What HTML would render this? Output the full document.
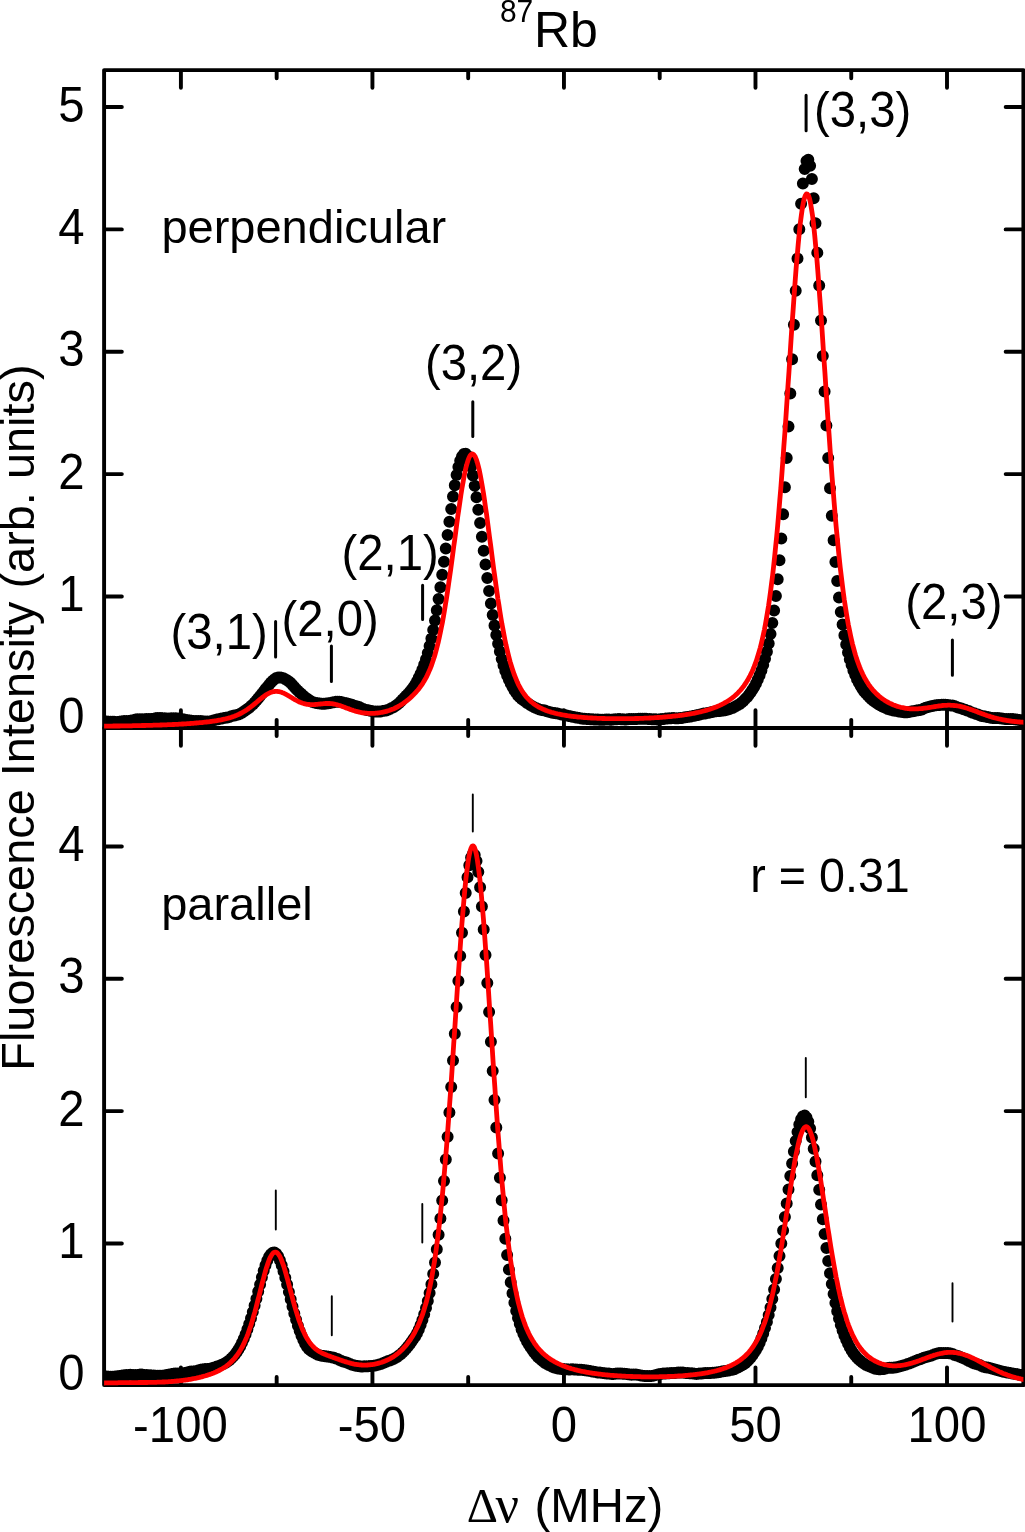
<!DOCTYPE html>
<html lang="en"><head><meta charset="utf-8"><title>87Rb fluorescence</title>
<style>html,body{margin:0;padding:0;background:#fff}svg{display:block}</style>
</head><body>
<svg width="1025" height="1532" viewBox="0 0 1025 1532">
<defs><clipPath id="cp"><rect x="104.10" y="0" width="919.30" height="1532"/></clipPath></defs>
<rect width="1025" height="1532" fill="#fff"/>
<g stroke="#000" stroke-width="3.9" stroke-linecap="round" fill="none">
<rect x="104.1" y="70.1" width="919.30" height="1315.00" stroke-linejoin="round"/>
<path d="M104.1 727.95H1023.4"/>
<path d="M180.90 71.1V87.85M180.90 710.20V745.70M180.90 1384.1V1367.35M276.66 71.1V78.20M276.66 719.85V736.05M276.66 1384.1V1377.00M372.43 71.1V87.85M372.43 710.20V745.70M372.43 1384.1V1367.35M468.19 71.1V78.20M468.19 719.85V736.05M468.19 1384.1V1377.00M563.95 71.1V87.85M563.95 710.20V745.70M563.95 1384.1V1367.35M659.71 71.1V78.20M659.71 719.85V736.05M659.71 1384.1V1377.00M755.48 71.1V87.85M755.48 710.20V745.70M755.48 1384.1V1367.35M851.24 71.1V78.20M851.24 719.85V736.05M851.24 1384.1V1377.00M947.00 71.1V87.85M947.00 710.20V745.70M947.00 1384.1V1367.35M105.1 718.80H121.85M1022.4 718.80H1005.65M105.1 596.45H121.85M1022.4 596.45H1005.65M105.1 474.10H121.85M1022.4 474.10H1005.65M105.1 351.75H121.85M1022.4 351.75H1005.65M105.1 229.40H121.85M1022.4 229.40H1005.65M105.1 107.05H121.85M1022.4 107.05H1005.65M105.1 1375.76H121.85M1022.4 1375.76H1005.65M105.1 1243.43H121.85M1022.4 1243.43H1005.65M105.1 1111.10H121.85M1022.4 1111.10H1005.65M105.1 978.77H121.85M1022.4 978.77H1005.65M105.1 846.44H121.85M1022.4 846.44H1005.65"/>
</g>
<path d="M275.6 621.5V657.0M331.4 646.0V681.5M422.6 585.3V619.5M472.8 401.7V436.6M806.1 95.2V130.7M952.4 640.1V675.3" stroke="#000" stroke-width="3.0" stroke-linecap="round" fill="none"/>
<path d="M275.8 1190.4V1229.5M331.8 1296.2V1335.3M422.3 1204.0V1242.6M472.8 794.4V831.6M805.8 1057.9V1097.2M952.5 1283.2V1321.5" stroke="#000" stroke-width="1.9" stroke-linecap="round" fill="none"/>
<g clip-path="url(#cp)">
<path d="M103.1 721.5h.01M104.9 721.5h.01M106.7 721.6h.01M108.6 721.7h.01M110.4 721.7h.01M112.2 721.7h.01M114.0 721.8h.01M115.8 721.9h.01M117.6 721.9h.01M119.4 721.8h.01M121.2 721.5h.01M123.0 721.2h.01M124.8 721.1h.01M126.6 721.1h.01M128.4 721.0h.01M130.2 720.8h.01M132.0 720.5h.01M133.8 720.1h.01M135.6 719.6h.01M137.4 719.3h.01M139.2 719.2h.01M141.0 719.2h.01M142.8 719.2h.01M144.6 719.2h.01M146.4 719.1h.01M148.2 719.1h.01M150.0 719.1h.01M151.8 719.0h.01M153.6 718.8h.01M155.4 718.3h.01M157.2 718.0h.01M159.1 717.9h.01M160.9 718.1h.01M162.7 718.2h.01M164.5 718.3h.01M166.3 718.4h.01M168.1 718.4h.01M169.9 718.4h.01M171.7 718.3h.01M173.5 718.3h.01M175.3 718.3h.01M177.1 718.4h.01M178.9 718.6h.01M180.7 718.9h.01M182.5 719.2h.01M184.3 719.6h.01M186.1 720.0h.01M187.9 720.2h.01M189.7 720.5h.01M191.5 720.8h.01M193.3 721.0h.01M195.1 721.1h.01M196.9 721.0h.01M198.7 721.0h.01M200.5 721.1h.01M202.3 721.3h.01M204.1 721.5h.01M205.9 721.6h.01M207.7 721.6h.01M209.6 721.4h.01M211.4 721.0h.01M213.2 720.6h.01M215.0 720.1h.01M216.8 719.6h.01M218.6 719.2h.01M220.4 718.8h.01M222.2 718.5h.01M224.0 718.1h.01M225.8 717.7h.01M227.6 717.4h.01M229.4 716.9h.01M231.2 716.3h.01M233.0 715.8h.01M234.8 715.4h.01M236.6 715.0h.01M238.4 714.5h.01M240.2 713.7h.01M242.0 712.7h.01M243.8 711.5h.01M245.6 710.2h.01M247.4 709.0h.01M249.2 707.7h.01M251.0 706.1h.01M252.8 704.4h.01M254.6 702.5h.01M256.4 700.5h.01M258.2 698.3h.01M260.1 696.0h.01M261.9 693.7h.01M263.7 691.4h.01M265.5 689.1h.01M267.3 686.9h.01M269.1 684.7h.01M270.9 682.5h.01M272.7 680.7h.01M274.5 679.2h.01M276.3 678.1h.01M278.1 677.5h.01M279.9 677.4h.01M281.7 677.7h.01M283.5 678.3h.01M285.3 679.2h.01M287.1 680.3h.01M288.9 681.5h.01M290.7 683.1h.01M292.5 685.0h.01M294.3 687.1h.01M296.1 689.1h.01M297.9 690.8h.01M299.7 692.4h.01M301.5 694.1h.01M303.3 695.7h.01M305.1 697.3h.01M306.9 698.6h.01M308.7 699.8h.01M310.6 700.9h.01M312.4 701.9h.01M314.2 702.6h.01M316.0 703.1h.01M317.8 703.3h.01M319.6 703.5h.01M321.4 703.7h.01M323.2 703.8h.01M325.0 703.8h.01M326.8 703.6h.01M328.6 703.3h.01M330.4 703.0h.01M332.2 702.6h.01M334.0 702.2h.01M335.8 701.8h.01M337.6 701.7h.01M339.4 701.8h.01M341.2 702.1h.01M343.0 702.5h.01M344.8 702.9h.01M346.6 703.3h.01M348.4 703.7h.01M350.2 704.2h.01M352.0 704.8h.01M353.8 705.4h.01M355.6 706.0h.01M357.4 706.5h.01M359.2 707.1h.01M361.0 707.9h.01M362.9 708.7h.01M364.7 709.4h.01M366.5 710.0h.01M368.3 710.3h.01M370.1 710.7h.01M371.9 711.1h.01M373.7 711.4h.01M375.5 711.6h.01M377.3 711.6h.01M379.1 711.5h.01M380.9 711.4h.01M382.7 711.1h.01M384.5 710.8h.01M386.3 710.4h.01M388.1 709.7h.01M389.9 709.0h.01M391.7 708.1h.01M393.5 707.2h.01M395.3 706.1h.01M397.1 704.8h.01M398.9 703.2h.01M400.7 701.4h.01M402.5 699.5h.01M404.3 697.7h.01M406.1 695.8h.01M407.9 693.9h.01M409.7 691.9h.01M411.5 689.7h.01M413.4 687.3h.01M415.2 684.4h.01M417.0 681.2h.01M418.8 677.6h.01M420.6 673.7h.01M422.4 669.4h.01M424.2 664.6h.01M426.0 659.2h.01M427.8 653.0h.01M429.6 646.1h.01M431.4 638.5h.01M433.2 630.0h.01M435.0 620.6h.01M436.8 610.2h.01M438.6 599.0h.01M440.4 587.2h.01M442.2 574.8h.01M444.0 561.8h.01M445.8 548.4h.01M447.6 535.0h.01M449.4 521.8h.01M451.2 508.9h.01M453.0 496.6h.01M454.8 485.2h.01M456.6 475.1h.01M458.4 466.9h.01M460.2 460.7h.01M462.0 456.4h.01M463.9 454.0h.01M465.7 453.8h.01M467.5 455.8h.01M469.3 460.2h.01M471.1 466.8h.01M472.9 475.4h.01M474.7 485.7h.01M476.5 497.3h.01M478.3 509.8h.01M480.1 523.0h.01M481.9 536.7h.01M483.7 550.7h.01M485.5 564.5h.01M487.3 578.0h.01M489.1 591.0h.01M490.9 603.4h.01M492.7 615.0h.01M494.5 625.6h.01M496.3 635.1h.01M498.1 643.7h.01M499.9 651.6h.01M501.7 658.9h.01M503.5 665.3h.01M505.3 670.9h.01M507.1 675.6h.01M508.9 679.7h.01M510.7 683.4h.01M512.5 686.9h.01M514.4 690.2h.01M516.2 693.0h.01M518.0 695.4h.01M519.8 697.3h.01M521.6 698.9h.01M523.4 700.3h.01M525.2 701.6h.01M527.0 702.9h.01M528.8 704.1h.01M530.6 705.2h.01M532.4 706.2h.01M534.2 707.2h.01M536.0 708.1h.01M537.8 708.8h.01M539.6 709.4h.01M541.4 709.9h.01M543.2 710.2h.01M545.0 710.6h.01M546.8 711.2h.01M548.6 711.8h.01M550.4 712.3h.01M552.2 712.7h.01M554.0 713.0h.01M555.8 713.3h.01M557.6 713.6h.01M559.4 714.0h.01M561.2 714.4h.01M563.0 714.7h.01M564.9 715.1h.01M566.7 715.4h.01M568.5 715.9h.01M570.3 716.3h.01M572.1 716.7h.01M573.9 717.1h.01M575.7 717.4h.01M577.5 717.7h.01M579.3 718.1h.01M581.1 718.5h.01M582.9 718.7h.01M584.7 718.8h.01M586.5 718.9h.01M588.3 719.1h.01M590.1 719.2h.01M591.9 719.3h.01M593.7 719.4h.01M595.5 719.4h.01M597.3 719.5h.01M599.1 719.7h.01M600.9 719.8h.01M602.7 719.8h.01M604.5 719.7h.01M606.3 719.6h.01M608.1 719.6h.01M609.9 719.7h.01M611.7 719.7h.01M613.5 719.5h.01M615.4 719.3h.01M617.2 719.2h.01M619.0 719.1h.01M620.8 719.2h.01M622.6 719.3h.01M624.4 719.4h.01M626.2 719.4h.01M628.0 719.2h.01M629.8 719.0h.01M631.6 718.9h.01M633.4 719.0h.01M635.2 719.0h.01M637.0 718.9h.01M638.8 718.8h.01M640.6 718.8h.01M642.4 718.7h.01M644.2 718.7h.01M646.0 718.7h.01M647.8 718.9h.01M649.6 719.1h.01M651.4 719.2h.01M653.2 719.2h.01M655.0 719.2h.01M656.8 719.4h.01M658.6 719.4h.01M660.4 719.3h.01M662.2 719.1h.01M664.0 718.9h.01M665.9 718.6h.01M667.7 718.4h.01M669.5 718.3h.01M671.3 718.2h.01M673.1 718.1h.01M674.9 718.2h.01M676.7 718.2h.01M678.5 718.2h.01M680.3 718.1h.01M682.1 717.9h.01M683.9 717.6h.01M685.7 717.2h.01M687.5 716.9h.01M689.3 716.7h.01M691.1 716.4h.01M692.9 716.1h.01M694.7 715.7h.01M696.5 715.3h.01M698.3 714.9h.01M700.1 714.4h.01M701.9 713.9h.01M703.7 713.6h.01M705.5 713.4h.01M707.3 713.1h.01M709.1 712.7h.01M710.9 712.3h.01M712.7 711.9h.01M714.5 711.5h.01M716.4 711.2h.01M718.2 711.0h.01M720.0 710.9h.01M721.8 710.8h.01M723.6 710.5h.01M725.4 710.2h.01M727.2 709.7h.01M729.0 709.2h.01M730.8 708.5h.01M732.6 707.9h.01M734.4 707.0h.01M736.2 706.1h.01M738.0 705.1h.01M739.8 703.9h.01M741.6 702.5h.01M743.4 700.9h.01M745.2 699.1h.01M747.0 697.2h.01M748.8 694.9h.01M750.6 692.5h.01M752.4 689.8h.01M754.2 686.9h.01M756.0 683.5h.01M757.8 679.6h.01M759.6 675.3h.01M761.4 670.4h.01M763.2 665.0h.01M765.0 658.8h.01M766.9 651.7h.01M768.7 643.5h.01M770.5 634.0h.01M772.3 623.1h.01M774.1 610.5h.01M775.9 596.0h.01M777.7 579.3h.01M779.5 560.2h.01M781.3 538.6h.01M783.1 514.3h.01M784.9 487.3h.01M786.7 457.9h.01M788.5 426.5h.01M790.3 393.4h.01M792.1 359.2h.01M793.9 324.7h.01M795.7 290.8h.01M797.5 258.6h.01M799.3 229.2h.01M801.1 203.8h.01M802.9 183.5h.01M804.7 169.0h.01M806.5 161.0h.01M808.3 159.8h.01M810.1 165.8h.01M811.9 178.9h.01M813.7 198.3h.01M815.5 223.2h.01M817.3 252.7h.01M819.2 285.6h.01M821.0 320.5h.01M822.8 356.1h.01M824.6 391.4h.01M826.4 425.6h.01M828.2 458.1h.01M830.0 488.3h.01M831.8 515.8h.01M833.6 540.3h.01M835.4 561.9h.01M837.2 580.9h.01M839.0 597.5h.01M840.8 612.0h.01M842.6 624.6h.01M844.4 635.3h.01M846.2 644.5h.01M848.0 652.4h.01M849.8 659.2h.01M851.6 665.1h.01M853.4 670.4h.01M855.2 675.1h.01M857.0 679.2h.01M858.8 682.7h.01M860.6 685.9h.01M862.4 688.9h.01M864.2 691.4h.01M866.0 693.5h.01M867.8 695.5h.01M869.7 697.4h.01M871.5 699.2h.01M873.3 700.7h.01M875.1 702.1h.01M876.9 703.3h.01M878.7 704.5h.01M880.5 705.5h.01M882.3 706.4h.01M884.1 707.3h.01M885.9 708.1h.01M887.7 708.9h.01M889.5 709.6h.01M891.3 710.1h.01M893.1 710.4h.01M894.9 710.7h.01M896.7 711.0h.01M898.5 711.4h.01M900.3 711.8h.01M902.1 712.1h.01M903.9 712.2h.01M905.7 712.3h.01M907.5 712.2h.01M909.3 712.0h.01M911.1 711.6h.01M912.9 711.2h.01M914.7 710.9h.01M916.5 710.6h.01M918.3 710.3h.01M920.2 710.0h.01M922.0 709.4h.01M923.8 708.6h.01M925.6 707.8h.01M927.4 707.2h.01M929.2 706.7h.01M931.0 706.3h.01M932.8 706.0h.01M934.6 705.6h.01M936.4 705.3h.01M938.2 705.1h.01M940.0 705.0h.01M941.8 704.8h.01M943.6 704.7h.01M945.4 704.7h.01M947.2 704.9h.01M949.0 705.2h.01M950.8 705.4h.01M952.6 705.6h.01M954.4 706.1h.01M956.2 706.8h.01M958.0 707.5h.01M959.8 708.1h.01M961.6 708.6h.01M963.4 709.2h.01M965.2 709.8h.01M967.0 710.4h.01M968.8 711.1h.01M970.7 711.9h.01M972.5 712.7h.01M974.3 713.3h.01M976.1 713.9h.01M977.9 714.6h.01M979.7 715.3h.01M981.5 715.9h.01M983.3 716.3h.01M985.1 716.6h.01M986.9 716.9h.01M988.7 717.3h.01M990.5 717.7h.01M992.3 718.0h.01M994.1 718.1h.01M995.9 718.0h.01M997.7 718.0h.01M999.5 718.2h.01M1001.3 718.5h.01M1003.1 718.8h.01M1004.9 719.0h.01M1006.7 719.1h.01M1008.5 719.1h.01M1010.3 719.1h.01M1012.1 719.1h.01M1013.9 719.2h.01M1015.7 719.4h.01M1017.5 719.7h.01M1019.3 720.0h.01M1021.2 720.3h.01M1023.0 720.7h.01M1024.8 721.2h.01" stroke="#000" stroke-width="12" stroke-linecap="round" fill="none"/>
<path d="M103.1 1376.8h.01M104.9 1376.6h.01M106.7 1376.6h.01M108.6 1376.7h.01M110.4 1376.8h.01M112.2 1376.7h.01M114.0 1376.7h.01M115.8 1376.6h.01M117.6 1376.3h.01M119.4 1376.0h.01M121.2 1375.7h.01M123.0 1375.4h.01M124.8 1375.2h.01M126.6 1375.0h.01M128.4 1374.9h.01M130.2 1374.8h.01M132.0 1374.9h.01M133.8 1374.9h.01M135.6 1375.0h.01M137.4 1374.9h.01M139.2 1374.7h.01M141.0 1374.6h.01M142.8 1374.7h.01M144.6 1374.9h.01M146.4 1375.0h.01M148.2 1375.2h.01M150.0 1375.3h.01M151.8 1375.5h.01M153.6 1375.6h.01M155.4 1375.7h.01M157.2 1375.8h.01M159.1 1375.8h.01M160.9 1375.8h.01M162.7 1375.7h.01M164.5 1375.5h.01M166.3 1375.1h.01M168.1 1374.8h.01M169.9 1374.5h.01M171.7 1374.1h.01M173.5 1373.7h.01M175.3 1373.5h.01M177.1 1373.5h.01M178.9 1373.5h.01M180.7 1373.5h.01M182.5 1373.4h.01M184.3 1373.1h.01M186.1 1372.7h.01M187.9 1372.2h.01M189.7 1371.8h.01M191.5 1371.6h.01M193.3 1371.5h.01M195.1 1371.3h.01M196.9 1370.9h.01M198.7 1370.3h.01M200.5 1369.8h.01M202.3 1369.5h.01M204.1 1369.2h.01M205.9 1369.1h.01M207.7 1368.9h.01M209.6 1368.7h.01M211.4 1368.4h.01M213.2 1367.8h.01M215.0 1367.2h.01M216.8 1366.6h.01M218.6 1366.0h.01M220.4 1365.3h.01M222.2 1364.6h.01M224.0 1363.8h.01M225.8 1362.8h.01M227.6 1361.6h.01M229.4 1360.2h.01M231.2 1358.6h.01M233.0 1356.8h.01M234.8 1354.7h.01M236.6 1352.3h.01M238.4 1349.6h.01M240.2 1346.4h.01M242.0 1342.8h.01M243.8 1338.7h.01M245.6 1334.2h.01M247.4 1329.3h.01M249.2 1324.0h.01M251.0 1318.2h.01M252.8 1311.9h.01M254.6 1305.4h.01M256.4 1298.7h.01M258.2 1291.6h.01M260.1 1284.4h.01M261.9 1277.3h.01M263.7 1270.8h.01M265.5 1265.2h.01M267.3 1260.5h.01M269.1 1256.8h.01M270.9 1254.2h.01M272.7 1252.7h.01M274.5 1252.5h.01M276.3 1253.7h.01M278.1 1256.3h.01M279.9 1260.2h.01M281.7 1265.2h.01M283.5 1271.2h.01M285.3 1277.7h.01M287.1 1284.6h.01M288.9 1291.9h.01M290.7 1299.3h.01M292.5 1306.5h.01M294.3 1313.4h.01M296.1 1319.8h.01M297.9 1325.7h.01M299.7 1331.0h.01M301.5 1335.8h.01M303.3 1340.1h.01M305.1 1343.7h.01M306.9 1346.7h.01M308.7 1348.9h.01M310.6 1350.4h.01M312.4 1351.7h.01M314.2 1352.8h.01M316.0 1353.8h.01M317.8 1354.7h.01M319.6 1355.3h.01M321.4 1355.8h.01M323.2 1356.1h.01M325.0 1356.2h.01M326.8 1356.5h.01M328.6 1356.8h.01M330.4 1357.1h.01M332.2 1357.4h.01M334.0 1357.8h.01M335.8 1358.4h.01M337.6 1359.1h.01M339.4 1359.9h.01M341.2 1360.7h.01M343.0 1361.4h.01M344.8 1362.0h.01M346.6 1362.6h.01M348.4 1363.2h.01M350.2 1363.9h.01M352.0 1364.7h.01M353.8 1365.3h.01M355.6 1365.8h.01M357.4 1366.1h.01M359.2 1366.3h.01M361.0 1366.4h.01M362.9 1366.4h.01M364.7 1366.3h.01M366.5 1366.3h.01M368.3 1366.2h.01M370.1 1366.1h.01M371.9 1365.9h.01M373.7 1365.8h.01M375.5 1365.5h.01M377.3 1365.0h.01M379.1 1364.6h.01M380.9 1364.0h.01M382.7 1363.3h.01M384.5 1362.5h.01M386.3 1361.7h.01M388.1 1361.0h.01M389.9 1360.4h.01M391.7 1359.7h.01M393.5 1358.9h.01M395.3 1358.0h.01M397.1 1356.9h.01M398.9 1355.6h.01M400.7 1354.2h.01M402.5 1352.6h.01M404.3 1350.8h.01M406.1 1348.7h.01M407.9 1346.5h.01M409.7 1344.2h.01M411.5 1341.7h.01M413.4 1339.1h.01M415.2 1336.4h.01M417.0 1333.2h.01M418.8 1329.4h.01M420.6 1325.0h.01M422.4 1320.0h.01M424.2 1314.3h.01M426.0 1308.0h.01M427.8 1300.9h.01M429.6 1293.1h.01M431.4 1284.3h.01M433.2 1274.0h.01M435.0 1262.4h.01M436.8 1249.3h.01M438.6 1234.7h.01M440.4 1218.5h.01M442.2 1200.6h.01M444.0 1180.9h.01M445.8 1159.6h.01M447.6 1136.8h.01M449.4 1112.5h.01M451.2 1087.0h.01M453.0 1060.6h.01M454.8 1033.7h.01M456.6 1007.0h.01M458.4 981.0h.01M460.2 956.0h.01M462.0 932.7h.01M463.9 911.5h.01M465.7 892.9h.01M467.5 877.3h.01M469.3 865.3h.01M471.1 857.4h.01M472.9 853.9h.01M474.7 855.0h.01M476.5 861.1h.01M478.3 872.0h.01M480.1 887.3h.01M481.9 906.6h.01M483.7 929.5h.01M485.5 955.1h.01M487.3 982.9h.01M489.1 1012.0h.01M490.9 1041.7h.01M492.7 1071.1h.01M494.5 1099.9h.01M496.3 1127.5h.01M498.1 1153.6h.01M499.9 1177.8h.01M501.7 1200.2h.01M503.5 1220.4h.01M505.3 1238.7h.01M507.1 1255.0h.01M508.9 1269.5h.01M510.7 1282.2h.01M512.5 1293.2h.01M514.4 1302.7h.01M516.2 1310.9h.01M518.0 1318.0h.01M519.8 1324.1h.01M521.6 1329.4h.01M523.4 1334.0h.01M525.2 1337.9h.01M527.0 1341.4h.01M528.8 1344.5h.01M530.6 1347.3h.01M532.4 1350.0h.01M534.2 1352.5h.01M536.0 1354.8h.01M537.8 1356.9h.01M539.6 1358.6h.01M541.4 1360.1h.01M543.2 1361.5h.01M545.0 1362.9h.01M546.8 1364.0h.01M548.6 1365.0h.01M550.4 1365.8h.01M552.2 1366.7h.01M554.0 1367.5h.01M555.8 1368.1h.01M557.6 1368.5h.01M559.4 1368.7h.01M561.2 1368.9h.01M563.0 1369.1h.01M564.9 1369.2h.01M566.7 1369.3h.01M568.5 1369.4h.01M570.3 1369.4h.01M572.1 1369.3h.01M573.9 1369.4h.01M575.7 1369.5h.01M577.5 1369.7h.01M579.3 1369.7h.01M581.1 1369.8h.01M582.9 1370.0h.01M584.7 1370.2h.01M586.5 1370.5h.01M588.3 1370.8h.01M590.1 1371.1h.01M591.9 1371.4h.01M593.7 1371.7h.01M595.5 1372.0h.01M597.3 1372.4h.01M599.1 1372.6h.01M600.9 1372.8h.01M602.7 1373.0h.01M604.5 1373.2h.01M606.3 1373.4h.01M608.1 1373.5h.01M609.9 1373.8h.01M611.7 1373.9h.01M613.5 1373.9h.01M615.4 1373.7h.01M617.2 1373.6h.01M619.0 1373.5h.01M620.8 1373.5h.01M622.6 1373.7h.01M624.4 1373.8h.01M626.2 1374.0h.01M628.0 1374.3h.01M629.8 1374.6h.01M631.6 1374.7h.01M633.4 1374.6h.01M635.2 1374.6h.01M637.0 1374.7h.01M638.8 1374.9h.01M640.6 1375.4h.01M642.4 1375.7h.01M644.2 1375.9h.01M646.0 1375.9h.01M647.8 1375.9h.01M649.6 1375.9h.01M651.4 1375.9h.01M653.2 1375.7h.01M655.0 1375.3h.01M656.8 1374.8h.01M658.6 1374.3h.01M660.4 1374.0h.01M662.2 1373.8h.01M664.0 1373.6h.01M665.9 1373.4h.01M667.7 1373.3h.01M669.5 1373.2h.01M671.3 1373.1h.01M673.1 1373.1h.01M674.9 1372.9h.01M676.7 1372.7h.01M678.5 1372.5h.01M680.3 1372.4h.01M682.1 1372.5h.01M683.9 1372.8h.01M685.7 1373.0h.01M687.5 1373.1h.01M689.3 1373.2h.01M691.1 1373.3h.01M692.9 1373.5h.01M694.7 1373.7h.01M696.5 1373.9h.01M698.3 1373.8h.01M700.1 1373.6h.01M701.9 1373.4h.01M703.7 1373.2h.01M705.5 1373.1h.01M707.3 1373.1h.01M709.1 1373.1h.01M710.9 1373.0h.01M712.7 1372.8h.01M714.5 1372.7h.01M716.4 1372.6h.01M718.2 1372.3h.01M720.0 1371.9h.01M721.8 1371.6h.01M723.6 1371.3h.01M725.4 1371.0h.01M727.2 1370.7h.01M729.0 1370.4h.01M730.8 1370.1h.01M732.6 1369.8h.01M734.4 1369.2h.01M736.2 1368.3h.01M738.0 1367.4h.01M739.8 1366.4h.01M741.6 1365.5h.01M743.4 1364.4h.01M745.2 1363.2h.01M747.0 1361.6h.01M748.8 1359.8h.01M750.6 1357.7h.01M752.4 1355.3h.01M754.2 1352.6h.01M756.0 1349.9h.01M757.8 1346.7h.01M759.6 1342.9h.01M761.4 1338.5h.01M763.2 1333.6h.01M765.0 1328.1h.01M766.9 1321.9h.01M768.7 1315.0h.01M770.5 1307.5h.01M772.3 1299.0h.01M774.1 1289.4h.01M775.9 1279.1h.01M777.7 1267.9h.01M779.5 1256.1h.01M781.3 1243.6h.01M783.1 1230.5h.01M784.9 1217.1h.01M786.7 1203.4h.01M788.5 1189.6h.01M790.3 1176.1h.01M792.1 1163.4h.01M793.9 1151.5h.01M795.7 1140.9h.01M797.5 1131.9h.01M799.3 1124.6h.01M801.1 1119.3h.01M802.9 1116.3h.01M804.7 1115.6h.01M806.5 1117.4h.01M808.3 1121.8h.01M810.1 1128.6h.01M811.9 1137.6h.01M813.7 1148.7h.01M815.5 1161.4h.01M817.3 1175.3h.01M819.2 1189.8h.01M821.0 1204.5h.01M822.8 1219.3h.01M824.6 1233.9h.01M826.4 1247.9h.01M828.2 1261.1h.01M830.0 1273.2h.01M831.8 1284.1h.01M833.6 1294.1h.01M835.4 1303.1h.01M837.2 1311.2h.01M839.0 1318.5h.01M840.8 1325.0h.01M842.6 1330.6h.01M844.4 1335.5h.01M846.2 1339.8h.01M848.0 1343.8h.01M849.8 1347.3h.01M851.6 1350.5h.01M853.4 1353.3h.01M855.2 1355.6h.01M857.0 1357.7h.01M858.8 1359.4h.01M860.6 1361.0h.01M862.4 1362.4h.01M864.2 1363.7h.01M866.0 1364.9h.01M867.8 1365.8h.01M869.7 1366.6h.01M871.5 1367.3h.01M873.3 1368.0h.01M875.1 1368.7h.01M876.9 1369.1h.01M878.7 1369.2h.01M880.5 1369.2h.01M882.3 1369.1h.01M884.1 1368.9h.01M885.9 1368.5h.01M887.7 1368.1h.01M889.5 1367.8h.01M891.3 1367.7h.01M893.1 1367.7h.01M894.9 1367.5h.01M896.7 1367.2h.01M898.5 1366.7h.01M900.3 1366.3h.01M902.1 1365.8h.01M903.9 1365.3h.01M905.7 1364.7h.01M907.5 1364.0h.01M909.3 1363.4h.01M911.1 1362.7h.01M912.9 1362.0h.01M914.7 1361.2h.01M916.5 1360.5h.01M918.3 1359.8h.01M920.2 1359.2h.01M922.0 1358.5h.01M923.8 1357.8h.01M925.6 1357.2h.01M927.4 1356.7h.01M929.2 1356.3h.01M931.0 1355.7h.01M932.8 1355.0h.01M934.6 1354.3h.01M936.4 1353.7h.01M938.2 1353.2h.01M940.0 1353.0h.01M941.8 1353.0h.01M943.6 1353.0h.01M945.4 1353.0h.01M947.2 1353.0h.01M949.0 1353.2h.01M950.8 1353.5h.01M952.6 1354.1h.01M954.4 1354.9h.01M956.2 1355.6h.01M958.0 1356.1h.01M959.8 1356.7h.01M961.6 1357.5h.01M963.4 1358.3h.01M965.2 1359.1h.01M967.0 1360.0h.01M968.8 1360.9h.01M970.7 1361.8h.01M972.5 1362.7h.01M974.3 1363.4h.01M976.1 1363.9h.01M977.9 1364.4h.01M979.7 1365.1h.01M981.5 1365.9h.01M983.3 1366.7h.01M985.1 1367.2h.01M986.9 1367.4h.01M988.7 1367.7h.01M990.5 1368.2h.01M992.3 1368.7h.01M994.1 1369.3h.01M995.9 1369.7h.01M997.7 1370.2h.01M999.5 1370.7h.01M1001.3 1371.2h.01M1003.1 1371.7h.01M1004.9 1372.1h.01M1006.7 1372.5h.01M1008.5 1372.8h.01M1010.3 1373.1h.01M1012.1 1373.4h.01M1013.9 1373.8h.01M1015.7 1374.0h.01M1017.5 1374.3h.01M1019.3 1374.7h.01M1021.2 1375.0h.01M1023.0 1375.3h.01M1024.8 1375.7h.01" stroke="#000" stroke-width="12" stroke-linecap="round" fill="none"/>
<polyline points="103.1,726.2 104.2,726.1 105.2,726.1 106.2,726.1 107.2,726.1 108.3,726.1 109.3,726.1 110.3,726.1 111.3,726.1 112.4,726.1 113.4,726.0 114.4,726.0 115.4,726.0 116.5,726.0 117.5,726.0 118.5,726.0 119.5,726.0 120.6,725.9 121.6,725.9 122.6,725.9 123.6,725.9 124.7,725.9 125.7,725.9 126.7,725.8 127.7,725.8 128.8,725.8 129.8,725.8 130.8,725.8 131.8,725.8 132.9,725.7 133.9,725.7 134.9,725.7 135.9,725.7 137.0,725.7 138.0,725.6 139.0,725.6 140.0,725.6 141.1,725.6 142.1,725.5 143.1,725.5 144.1,725.5 145.2,725.5 146.2,725.4 147.2,725.4 148.2,725.4 149.3,725.4 150.3,725.3 151.3,725.3 152.3,725.3 153.4,725.2 154.4,725.2 155.4,725.2 156.4,725.2 157.5,725.1 158.5,725.1 159.5,725.1 160.5,725.0 161.6,725.0 162.6,724.9 163.6,724.9 164.7,724.9 165.7,724.8 166.7,724.8 167.7,724.7 168.8,724.7 169.8,724.7 170.8,724.6 171.8,724.6 172.9,724.5 173.9,724.5 174.9,724.4 175.9,724.4 177.0,724.3 178.0,724.3 179.0,724.2 180.0,724.1 181.1,724.1 182.1,724.0 183.1,724.0 184.1,723.9 185.2,723.8 186.2,723.8 187.2,723.7 188.2,723.6 189.3,723.6 190.3,723.5 191.3,723.4 192.3,723.3 193.4,723.3 194.4,723.2 195.4,723.1 196.4,723.0 197.5,722.9 198.5,722.8 199.5,722.7 200.5,722.7 201.6,722.6 202.6,722.5 203.6,722.3 204.6,722.2 205.7,722.1 206.7,722.0 207.7,721.9 208.7,721.8 209.8,721.6 210.8,721.5 211.8,721.4 212.8,721.2 213.9,721.1 214.9,720.9 215.9,720.8 216.9,720.6 218.0,720.4 219.0,720.2 220.0,720.1 221.0,719.9 222.1,719.6 223.1,719.4 224.1,719.2 225.1,719.0 226.2,718.7 227.2,718.5 228.2,718.2 229.2,717.9 230.3,717.6 231.3,717.3 232.3,716.9 233.3,716.6 234.4,716.2 235.4,715.8 236.4,715.4 237.4,714.9 238.5,714.5 239.5,714.0 240.5,713.5 241.5,713.0 242.6,712.4 243.6,711.8 244.6,711.2 245.6,710.6 246.7,709.9 247.7,709.2 248.7,708.5 249.7,707.7 250.8,707.0 251.8,706.2 252.8,705.4 253.8,704.5 254.9,703.7 255.9,702.8 256.9,702.0 257.9,701.1 259.0,700.3 260.0,699.4 261.0,698.6 262.0,697.8 263.1,697.0 264.1,696.2 265.1,695.5 266.1,694.8 267.2,694.2 268.2,693.6 269.2,693.1 270.2,692.6 271.3,692.2 272.3,691.9 273.3,691.7 274.3,691.5 275.4,691.4 276.4,691.4 277.4,691.4 278.4,691.6 279.5,691.7 280.5,692.0 281.5,692.3 282.5,692.7 283.6,693.1 284.6,693.6 285.6,694.1 286.6,694.7 287.7,695.3 288.7,695.9 289.7,696.5 290.7,697.1 291.8,697.8 292.8,698.4 293.8,699.0 294.8,699.6 295.9,700.2 296.9,700.7 297.9,701.3 298.9,701.7 300.0,702.2 301.0,702.6 302.0,703.0 303.0,703.3 304.1,703.6 305.1,703.9 306.1,704.1 307.1,704.3 308.2,704.4 309.2,704.5 310.2,704.6 311.2,704.6 312.3,704.6 313.3,704.6 314.3,704.6 315.3,704.5 316.4,704.4 317.4,704.3 318.4,704.2 319.4,704.1 320.5,704.0 321.5,703.9 322.5,703.8 323.6,703.7 324.6,703.6 325.6,703.5 326.6,703.5 327.7,703.5 328.7,703.5 329.7,703.5 330.7,703.6 331.8,703.7 332.8,703.9 333.8,704.0 334.8,704.2 335.9,704.5 336.9,704.7 337.9,705.0 338.9,705.3 340.0,705.6 341.0,706.0 342.0,706.3 343.0,706.7 344.1,707.1 345.1,707.5 346.1,707.9 347.1,708.3 348.2,708.6 349.2,709.0 350.2,709.4 351.2,709.8 352.3,710.1 353.3,710.5 354.3,710.8 355.3,711.1 356.4,711.4 357.4,711.7 358.4,711.9 359.4,712.2 360.5,712.4 361.5,712.6 362.5,712.8 363.5,712.9 364.6,713.0 365.6,713.2 366.6,713.2 367.6,713.3 368.7,713.4 369.7,713.4 370.7,713.4 371.7,713.4 372.8,713.4 373.8,713.3 374.8,713.3 375.8,713.2 376.9,713.1 377.9,713.0 378.9,712.8 379.9,712.7 381.0,712.5 382.0,712.3 383.0,712.1 384.0,711.9 385.1,711.7 386.1,711.4 387.1,711.1 388.1,710.8 389.2,710.5 390.2,710.1 391.2,709.7 392.2,709.3 393.3,708.9 394.3,708.5 395.3,708.0 396.3,707.5 397.4,707.0 398.4,706.4 399.4,705.8 400.4,705.2 401.5,704.6 402.5,703.9 403.5,703.2 404.5,702.5 405.6,701.7 406.6,700.9 407.6,700.1 408.6,699.3 409.7,698.4 410.7,697.5 411.7,696.5 412.7,695.5 413.8,694.5 414.8,693.4 415.8,692.3 416.8,691.2 417.9,690.0 418.9,688.7 419.9,687.4 420.9,685.9 422.0,684.5 423.0,682.9 424.0,681.2 425.0,679.5 426.1,677.6 427.1,675.6 428.1,673.4 429.1,671.1 430.2,668.7 431.2,666.1 432.2,663.2 433.2,660.2 434.3,657.0 435.3,653.5 436.3,649.8 437.3,645.8 438.4,641.6 439.4,637.1 440.4,632.3 441.4,627.3 442.5,621.9 443.5,616.3 444.5,610.3 445.5,604.1 446.6,597.7 447.6,591.0 448.6,584.0 449.6,576.9 450.7,569.5 451.7,562.0 452.7,554.4 453.7,546.8 454.8,539.1 455.8,531.4 456.8,523.7 457.8,516.2 458.9,508.9 459.9,501.8 460.9,495.0 461.9,488.6 463.0,482.5 464.0,476.9 465.0,471.9 466.0,467.3 467.1,463.4 468.1,460.1 469.1,457.5 470.1,455.6 471.2,454.4 472.2,453.9 473.2,454.2 474.2,455.2 475.3,456.9 476.3,459.3 477.3,462.4 478.3,466.2 479.4,470.6 480.4,475.6 481.4,481.1 482.4,487.0 483.5,493.4 484.5,500.2 485.5,507.3 486.6,514.7 487.6,522.3 488.6,530.0 489.6,537.8 490.7,545.6 491.7,553.5 492.7,561.3 493.7,569.0 494.8,576.6 495.8,584.0 496.8,591.2 497.8,598.3 498.9,605.0 499.9,611.6 500.9,617.8 501.9,623.8 503.0,629.5 504.0,634.9 505.0,640.1 506.0,644.9 507.1,649.5 508.1,653.8 509.1,657.9 510.1,661.7 511.2,665.2 512.2,668.5 513.2,671.6 514.2,674.5 515.3,677.2 516.3,679.7 517.3,682.1 518.3,684.3 519.4,686.3 520.4,688.2 521.4,689.9 522.4,691.6 523.5,693.1 524.5,694.5 525.5,695.9 526.5,697.1 527.6,698.2 528.6,699.3 529.6,700.3 530.6,701.3 531.7,702.2 532.7,703.0 533.7,703.8 534.7,704.5 535.8,705.2 536.8,705.9 537.8,706.5 538.8,707.1 539.9,707.7 540.9,708.2 541.9,708.7 542.9,709.1 544.0,709.6 545.0,710.0 546.0,710.4 547.0,710.8 548.1,711.2 549.1,711.5 550.1,711.8 551.1,712.2 552.2,712.5 553.2,712.7 554.2,713.0 555.2,713.3 556.3,713.5 557.3,713.8 558.3,714.0 559.3,714.2 560.4,714.4 561.4,714.6 562.4,714.8 563.4,715.0 564.5,715.2 565.5,715.4 566.5,715.5 567.5,715.7 568.6,715.8 569.6,716.0 570.6,716.1 571.6,716.3 572.7,716.4 573.7,716.5 574.7,716.6 575.7,716.7 576.8,716.9 577.8,717.0 578.8,717.1 579.8,717.2 580.9,717.2 581.9,717.3 582.9,717.4 583.9,717.5 585.0,717.6 586.0,717.7 587.0,717.7 588.0,717.8 589.1,717.9 590.1,717.9 591.1,718.0 592.1,718.0 593.2,718.1 594.2,718.1 595.2,718.2 596.2,718.2 597.3,718.3 598.3,718.3 599.3,718.4 600.3,718.4 601.4,718.4 602.4,718.5 603.4,718.5 604.4,718.5 605.5,718.6 606.5,718.6 607.5,718.6 608.5,718.6 609.6,718.6 610.6,718.7 611.6,718.7 612.6,718.7 613.7,718.7 614.7,718.7 615.7,718.7 616.7,718.7 617.8,718.7 618.8,718.7 619.8,718.7 620.8,718.7 621.9,718.7 622.9,718.7 623.9,718.7 624.9,718.7 626.0,718.7 627.0,718.7 628.0,718.7 629.0,718.7 630.1,718.6 631.1,718.6 632.1,718.6 633.1,718.6 634.2,718.6 635.2,718.5 636.2,718.5 637.2,718.5 638.3,718.5 639.3,718.4 640.3,718.4 641.3,718.4 642.4,718.3 643.4,718.3 644.4,718.2 645.5,718.2 646.5,718.2 647.5,718.1 648.5,718.1 649.6,718.0 650.6,718.0 651.6,717.9 652.6,717.9 653.7,717.8 654.7,717.7 655.7,717.7 656.7,717.6 657.8,717.5 658.8,717.5 659.8,717.4 660.8,717.3 661.9,717.3 662.9,717.2 663.9,717.1 664.9,717.0 666.0,716.9 667.0,716.8 668.0,716.7 669.0,716.7 670.1,716.6 671.1,716.5 672.1,716.4 673.1,716.2 674.2,716.1 675.2,716.0 676.2,715.9 677.2,715.8 678.3,715.7 679.3,715.5 680.3,715.4 681.3,715.3 682.4,715.1 683.4,715.0 684.4,714.8 685.4,714.7 686.5,714.5 687.5,714.4 688.5,714.2 689.5,714.0 690.6,713.9 691.6,713.7 692.6,713.5 693.6,713.3 694.7,713.1 695.7,712.9 696.7,712.7 697.7,712.5 698.8,712.2 699.8,712.0 700.8,711.8 701.8,711.5 702.9,711.2 703.9,711.0 704.9,710.7 705.9,710.4 707.0,710.1 708.0,709.8 709.0,709.5 710.0,709.2 711.1,708.8 712.1,708.5 713.1,708.1 714.1,707.7 715.2,707.3 716.2,706.9 717.2,706.5 718.2,706.1 719.3,705.6 720.3,705.1 721.3,704.7 722.3,704.1 723.4,703.6 724.4,703.0 725.4,702.5 726.4,701.9 727.5,701.2 728.5,700.6 729.5,699.9 730.5,699.2 731.6,698.4 732.6,697.6 733.6,696.8 734.6,696.0 735.7,695.0 736.7,694.1 737.7,693.1 738.7,692.0 739.8,690.9 740.8,689.8 741.8,688.6 742.8,687.3 743.9,685.9 744.9,684.4 745.9,682.9 746.9,681.3 748.0,679.6 749.0,677.7 750.0,675.8 751.0,673.7 752.1,671.5 753.1,669.2 754.1,666.7 755.1,664.0 756.2,661.2 757.2,658.1 758.2,654.8 759.2,651.4 760.3,647.6 761.3,643.6 762.3,639.3 763.3,634.7 764.4,629.7 765.4,624.4 766.4,618.7 767.4,612.7 768.5,606.2 769.5,599.2 770.5,591.8 771.5,583.9 772.6,575.5 773.6,566.5 774.6,557.0 775.6,547.0 776.7,536.3 777.7,525.2 778.7,513.5 779.7,501.2 780.8,488.4 781.8,475.0 782.8,461.2 783.8,447.0 784.9,432.4 785.9,417.5 786.9,402.2 787.9,386.8 789.0,371.3 790.0,355.8 791.0,340.4 792.0,325.2 793.1,310.3 794.1,295.8 795.1,281.8 796.1,268.5 797.2,255.9 798.2,244.3 799.2,233.6 800.2,224.0 801.3,215.6 802.3,208.5 803.3,202.7 804.3,198.4 805.4,195.4 806.4,194.0 807.4,194.1 808.5,195.6 809.5,198.6 810.5,203.1 811.5,209.0 812.6,216.2 813.6,224.6 814.6,234.3 815.6,245.0 816.7,256.8 817.7,269.4 818.7,282.7 819.7,296.7 820.8,311.3 821.8,326.2 822.8,341.5 823.8,356.9 824.9,372.4 825.9,387.9 826.9,403.3 827.9,418.5 829.0,433.5 830.0,448.1 831.0,462.3 832.0,476.1 833.1,489.4 834.1,502.1 835.1,514.4 836.1,526.1 837.2,537.2 838.2,547.8 839.2,557.8 840.2,567.3 841.3,576.2 842.3,584.6 843.3,592.5 844.3,599.9 845.4,606.8 846.4,613.3 847.4,619.4 848.4,625.0 849.5,630.3 850.5,635.2 851.5,639.8 852.5,644.1 853.6,648.1 854.6,651.9 855.6,655.4 856.6,658.6 857.7,661.7 858.7,664.5 859.7,667.2 860.7,669.7 861.8,672.0 862.8,674.2 863.8,676.2 864.8,678.2 865.9,680.0 866.9,681.7 867.9,683.3 868.9,684.9 870.0,686.3 871.0,687.7 872.0,688.9 873.0,690.2 874.1,691.3 875.1,692.4 876.1,693.5 877.1,694.4 878.2,695.4 879.2,696.3 880.2,697.1 881.2,697.9 882.3,698.7 883.3,699.4 884.3,700.1 885.3,700.7 886.4,701.4 887.4,702.0 888.4,702.5 889.4,703.1 890.5,703.6 891.5,704.0 892.5,704.5 893.5,704.9 894.6,705.3 895.6,705.7 896.6,706.1 897.6,706.4 898.7,706.7 899.7,707.0 900.7,707.3 901.7,707.5 902.8,707.7 903.8,707.9 904.8,708.1 905.8,708.3 906.9,708.4 907.9,708.6 908.9,708.7 909.9,708.8 911.0,708.8 912.0,708.9 913.0,708.9 914.0,708.9 915.1,708.9 916.1,708.9 917.1,708.9 918.1,708.8 919.2,708.7 920.2,708.7 921.2,708.6 922.2,708.5 923.3,708.4 924.3,708.2 925.3,708.1 926.3,708.0 927.4,707.8 928.4,707.6 929.4,707.5 930.4,707.3 931.5,707.2 932.5,707.0 933.5,706.8 934.5,706.6 935.6,706.5 936.6,706.3 937.6,706.2 938.6,706.0 939.7,705.9 940.7,705.8 941.7,705.6 942.7,705.5 943.8,705.4 944.8,705.4 945.8,705.3 946.8,705.3 947.9,705.2 948.9,705.2 949.9,705.2 950.9,705.3 952.0,705.3 953.0,705.4 954.0,705.5 955.0,705.6 956.1,705.7 957.1,705.8 958.1,706.0 959.1,706.2 960.2,706.4 961.2,706.6 962.2,706.9 963.2,707.1 964.3,707.4 965.3,707.7 966.3,708.0 967.4,708.3 968.4,708.7 969.4,709.0 970.4,709.4 971.5,709.7 972.5,710.1 973.5,710.5 974.5,710.8 975.6,711.2 976.6,711.6 977.6,712.0 978.6,712.4 979.7,712.8 980.7,713.2 981.7,713.6 982.7,713.9 983.8,714.3 984.8,714.7 985.8,715.0 986.8,715.4 987.9,715.8 988.9,716.1 989.9,716.4 990.9,716.8 992.0,717.1 993.0,717.4 994.0,717.7 995.0,718.0 996.1,718.2 997.1,718.5 998.1,718.7 999.1,719.0 1000.2,719.2 1001.2,719.4 1002.2,719.6 1003.2,719.9 1004.3,720.0 1005.3,720.2 1006.3,720.4 1007.3,720.6 1008.4,720.7 1009.4,720.9 1010.4,721.0 1011.4,721.1 1012.5,721.3 1013.5,721.4 1014.5,721.5 1015.5,721.6 1016.6,721.7 1017.6,721.8 1018.6,721.9 1019.6,722.0 1020.7,722.1 1021.7,722.1 1022.7,722.2 1023.7,722.3 1024.8,722.3" stroke="#f00" stroke-width="4.8" stroke-linejoin="round" stroke-linecap="butt" fill="none"/>
<polyline points="103.1,1383.0 104.2,1383.0 105.2,1382.9 106.2,1382.9 107.2,1382.9 108.3,1382.9 109.3,1382.9 110.3,1382.9 111.3,1382.8 112.4,1382.8 113.4,1382.8 114.4,1382.8 115.4,1382.8 116.5,1382.8 117.5,1382.8 118.5,1382.7 119.5,1382.7 120.6,1382.7 121.6,1382.7 122.6,1382.7 123.6,1382.7 124.7,1382.7 125.7,1382.7 126.7,1382.7 127.7,1382.6 128.8,1382.6 129.8,1382.6 130.8,1382.6 131.8,1382.6 132.9,1382.6 133.9,1382.6 134.9,1382.6 135.9,1382.6 137.0,1382.6 138.0,1382.6 139.0,1382.5 140.0,1382.5 141.1,1382.5 142.1,1382.5 143.1,1382.5 144.1,1382.5 145.2,1382.5 146.2,1382.5 147.2,1382.5 148.2,1382.4 149.3,1382.4 150.3,1382.4 151.3,1382.4 152.3,1382.4 153.4,1382.3 154.4,1382.3 155.4,1382.3 156.4,1382.3 157.5,1382.2 158.5,1382.2 159.5,1382.2 160.5,1382.1 161.6,1382.1 162.6,1382.0 163.6,1382.0 164.7,1382.0 165.7,1381.9 166.7,1381.8 167.7,1381.8 168.8,1381.7 169.8,1381.6 170.8,1381.6 171.8,1381.5 172.9,1381.4 173.9,1381.3 174.9,1381.2 175.9,1381.1 177.0,1381.0 178.0,1380.9 179.0,1380.8 180.0,1380.7 181.1,1380.6 182.1,1380.5 183.1,1380.3 184.1,1380.2 185.2,1380.1 186.2,1379.9 187.2,1379.8 188.2,1379.6 189.3,1379.4 190.3,1379.3 191.3,1379.1 192.3,1378.9 193.4,1378.7 194.4,1378.5 195.4,1378.3 196.4,1378.1 197.5,1377.8 198.5,1377.6 199.5,1377.4 200.5,1377.1 201.6,1376.9 202.6,1376.6 203.6,1376.3 204.6,1376.0 205.7,1375.7 206.7,1375.4 207.7,1375.1 208.7,1374.7 209.8,1374.4 210.8,1374.0 211.8,1373.7 212.8,1373.3 213.9,1372.9 214.9,1372.4 215.9,1372.0 216.9,1371.5 218.0,1371.0 219.0,1370.5 220.0,1370.0 221.0,1369.4 222.1,1368.8 223.1,1368.2 224.1,1367.6 225.1,1366.9 226.2,1366.2 227.2,1365.4 228.2,1364.6 229.2,1363.7 230.3,1362.8 231.3,1361.8 232.3,1360.8 233.3,1359.7 234.4,1358.6 235.4,1357.4 236.4,1356.0 237.4,1354.7 238.5,1353.2 239.5,1351.6 240.5,1349.9 241.5,1348.1 242.6,1346.2 243.6,1344.1 244.6,1341.9 245.6,1339.6 246.7,1337.1 247.7,1334.5 248.7,1331.7 249.7,1328.8 250.8,1325.7 251.8,1322.5 252.8,1319.1 253.8,1315.5 254.9,1311.9 255.9,1308.1 256.9,1304.2 257.9,1300.2 259.0,1296.1 260.0,1292.1 261.0,1288.0 262.0,1283.9 263.1,1280.0 264.1,1276.1 265.1,1272.4 266.1,1268.8 267.2,1265.6 268.2,1262.5 269.2,1259.8 270.2,1257.5 271.3,1255.6 272.3,1254.0 273.3,1252.9 274.3,1252.3 275.4,1252.1 276.4,1252.3 277.4,1253.0 278.4,1254.2 279.5,1255.8 280.5,1257.8 281.5,1260.1 282.5,1262.8 283.6,1265.8 284.6,1269.1 285.6,1272.5 286.6,1276.2 287.7,1279.9 288.7,1283.8 289.7,1287.6 290.7,1291.5 291.8,1295.4 292.8,1299.3 293.8,1303.0 294.8,1306.6 295.9,1310.2 296.9,1313.5 297.9,1316.8 298.9,1319.9 300.0,1322.8 301.0,1325.5 302.0,1328.1 303.0,1330.5 304.1,1332.8 305.1,1334.9 306.1,1336.8 307.1,1338.6 308.2,1340.3 309.2,1341.8 310.2,1343.2 311.2,1344.5 312.3,1345.7 313.3,1346.8 314.3,1347.8 315.3,1348.7 316.4,1349.5 317.4,1350.3 318.4,1351.0 319.4,1351.6 320.5,1352.2 321.5,1352.8 322.5,1353.3 323.6,1353.8 324.6,1354.2 325.6,1354.6 326.6,1355.1 327.7,1355.5 328.7,1355.8 329.7,1356.2 330.7,1356.6 331.8,1357.0 332.8,1357.3 333.8,1357.7 334.8,1358.0 335.9,1358.4 336.9,1358.8 337.9,1359.1 338.9,1359.5 340.0,1359.9 341.0,1360.2 342.0,1360.6 343.0,1360.9 344.1,1361.3 345.1,1361.6 346.1,1361.9 347.1,1362.2 348.2,1362.5 349.2,1362.8 350.2,1363.1 351.2,1363.4 352.3,1363.6 353.3,1363.9 354.3,1364.1 355.3,1364.3 356.4,1364.4 357.4,1364.6 358.4,1364.7 359.4,1364.8 360.5,1364.9 361.5,1365.0 362.5,1365.1 363.5,1365.1 364.6,1365.1 365.6,1365.1 366.6,1365.1 367.6,1365.0 368.7,1364.9 369.7,1364.9 370.7,1364.7 371.7,1364.6 372.8,1364.5 373.8,1364.3 374.8,1364.1 375.8,1363.9 376.9,1363.7 377.9,1363.4 378.9,1363.1 379.9,1362.8 381.0,1362.5 382.0,1362.2 383.0,1361.8 384.0,1361.4 385.1,1361.0 386.1,1360.6 387.1,1360.1 388.1,1359.6 389.2,1359.1 390.2,1358.6 391.2,1358.0 392.2,1357.4 393.3,1356.8 394.3,1356.1 395.3,1355.4 396.3,1354.6 397.4,1353.8 398.4,1353.0 399.4,1352.1 400.4,1351.2 401.5,1350.2 402.5,1349.2 403.5,1348.2 404.5,1347.1 405.6,1345.9 406.6,1344.7 407.6,1343.4 408.6,1342.0 409.7,1340.6 410.7,1339.1 411.7,1337.5 412.7,1335.9 413.8,1334.1 414.8,1332.3 415.8,1330.3 416.8,1328.3 417.9,1326.1 418.9,1323.8 419.9,1321.3 420.9,1318.7 422.0,1315.9 423.0,1312.9 424.0,1309.8 425.0,1306.4 426.1,1302.8 427.1,1298.9 428.1,1294.7 429.1,1290.2 430.2,1285.4 431.2,1280.3 432.2,1274.8 433.2,1268.9 434.3,1262.5 435.3,1255.8 436.3,1248.5 437.3,1240.7 438.4,1232.5 439.4,1223.7 440.4,1214.3 441.4,1204.4 442.5,1193.9 443.5,1182.8 444.5,1171.1 445.5,1158.9 446.6,1146.1 447.6,1132.8 448.6,1119.0 449.6,1104.7 450.7,1090.0 451.7,1075.0 452.7,1059.7 453.7,1044.2 454.8,1028.5 455.8,1012.8 456.8,997.2 457.8,981.7 458.9,966.6 459.9,951.8 460.9,937.5 461.9,923.9 463.0,911.0 464.0,899.0 465.0,888.0 466.0,878.1 467.1,869.3 468.1,861.9 469.1,855.7 470.1,851.0 471.2,847.8 472.2,846.0 473.2,845.8 474.2,847.0 475.3,849.8 476.3,854.1 477.3,859.7 478.3,866.8 479.4,875.1 480.4,884.7 481.4,895.4 482.4,907.1 483.5,919.8 484.5,933.2 485.5,947.3 486.6,962.0 487.6,977.2 488.6,992.6 489.6,1008.3 490.7,1024.1 491.7,1039.9 492.7,1055.6 493.7,1071.1 494.8,1086.4 495.8,1101.3 496.8,1115.8 497.8,1130.0 498.9,1143.6 499.9,1156.7 500.9,1169.3 501.9,1181.3 503.0,1192.8 504.0,1203.6 505.0,1213.9 506.0,1223.7 507.1,1232.9 508.1,1241.5 509.1,1249.6 510.1,1257.2 511.2,1264.3 512.2,1270.9 513.2,1277.2 514.2,1283.0 515.3,1288.4 516.3,1293.4 517.3,1298.1 518.3,1302.5 519.4,1306.6 520.4,1310.4 521.4,1313.9 522.4,1317.2 523.5,1320.3 524.5,1323.2 525.5,1325.9 526.5,1328.4 527.6,1330.7 528.6,1333.0 529.6,1335.0 530.6,1337.0 531.7,1338.8 532.7,1340.5 533.7,1342.1 534.7,1343.7 535.8,1345.1 536.8,1346.5 537.8,1347.8 538.8,1349.0 539.9,1350.1 540.9,1351.2 541.9,1352.3 542.9,1353.3 544.0,1354.2 545.0,1355.1 546.0,1355.9 547.0,1356.8 548.1,1357.5 549.1,1358.3 550.1,1359.0 551.1,1359.7 552.2,1360.3 553.2,1360.9 554.2,1361.5 555.2,1362.1 556.3,1362.6 557.3,1363.2 558.3,1363.7 559.3,1364.1 560.4,1364.6 561.4,1365.1 562.4,1365.5 563.4,1365.9 564.5,1366.3 565.5,1366.7 566.5,1367.1 567.5,1367.4 568.6,1367.8 569.6,1368.1 570.6,1368.4 571.6,1368.7 572.7,1369.0 573.7,1369.3 574.7,1369.6 575.7,1369.8 576.8,1370.1 577.8,1370.4 578.8,1370.6 579.8,1370.8 580.9,1371.1 581.9,1371.3 582.9,1371.5 583.9,1371.7 585.0,1371.9 586.0,1372.1 587.0,1372.3 588.0,1372.5 589.1,1372.6 590.1,1372.8 591.1,1373.0 592.1,1373.1 593.2,1373.3 594.2,1373.4 595.2,1373.6 596.2,1373.7 597.3,1373.8 598.3,1374.0 599.3,1374.1 600.3,1374.2 601.4,1374.3 602.4,1374.5 603.4,1374.6 604.4,1374.7 605.5,1374.8 606.5,1374.9 607.5,1375.0 608.5,1375.1 609.6,1375.2 610.6,1375.3 611.6,1375.3 612.6,1375.4 613.7,1375.5 614.7,1375.6 615.7,1375.7 616.7,1375.7 617.8,1375.8 618.8,1375.9 619.8,1375.9 620.8,1376.0 621.9,1376.1 622.9,1376.1 623.9,1376.2 624.9,1376.2 626.0,1376.3 627.0,1376.3 628.0,1376.4 629.0,1376.4 630.1,1376.4 631.1,1376.5 632.1,1376.5 633.1,1376.6 634.2,1376.6 635.2,1376.6 636.2,1376.6 637.2,1376.7 638.3,1376.7 639.3,1376.7 640.3,1376.7 641.3,1376.8 642.4,1376.8 643.4,1376.8 644.4,1376.8 645.5,1376.8 646.5,1376.8 647.5,1376.8 648.5,1376.8 649.6,1376.8 650.6,1376.8 651.6,1376.8 652.6,1376.8 653.7,1376.8 654.7,1376.8 655.7,1376.8 656.7,1376.8 657.8,1376.8 658.8,1376.8 659.8,1376.7 660.8,1376.7 661.9,1376.7 662.9,1376.7 663.9,1376.6 664.9,1376.6 666.0,1376.6 667.0,1376.6 668.0,1376.5 669.0,1376.5 670.1,1376.4 671.1,1376.4 672.1,1376.4 673.1,1376.3 674.2,1376.3 675.2,1376.2 676.2,1376.1 677.2,1376.1 678.3,1376.0 679.3,1376.0 680.3,1375.9 681.3,1375.8 682.4,1375.8 683.4,1375.7 684.4,1375.6 685.4,1375.5 686.5,1375.4 687.5,1375.3 688.5,1375.2 689.5,1375.1 690.6,1375.0 691.6,1374.9 692.6,1374.8 693.6,1374.7 694.7,1374.6 695.7,1374.5 696.7,1374.4 697.7,1374.2 698.8,1374.1 699.8,1373.9 700.8,1373.8 701.8,1373.6 702.9,1373.5 703.9,1373.3 704.9,1373.1 705.9,1373.0 707.0,1372.8 708.0,1372.6 709.0,1372.4 710.0,1372.2 711.1,1372.0 712.1,1371.7 713.1,1371.5 714.1,1371.3 715.2,1371.0 716.2,1370.8 717.2,1370.5 718.2,1370.2 719.3,1369.9 720.3,1369.6 721.3,1369.3 722.3,1369.0 723.4,1368.6 724.4,1368.2 725.4,1367.9 726.4,1367.5 727.5,1367.1 728.5,1366.6 729.5,1366.2 730.5,1365.7 731.6,1365.2 732.6,1364.7 733.6,1364.2 734.6,1363.6 735.7,1363.0 736.7,1362.4 737.7,1361.8 738.7,1361.1 739.8,1360.4 740.8,1359.6 741.8,1358.8 742.8,1358.0 743.9,1357.1 744.9,1356.2 745.9,1355.2 746.9,1354.2 748.0,1353.1 749.0,1352.0 750.0,1350.7 751.0,1349.5 752.1,1348.1 753.1,1346.6 754.1,1345.1 755.1,1343.5 756.2,1341.7 757.2,1339.9 758.2,1337.9 759.2,1335.9 760.3,1333.7 761.3,1331.3 762.3,1328.8 763.3,1326.2 764.4,1323.4 765.4,1320.4 766.4,1317.2 767.4,1313.9 768.5,1310.3 769.5,1306.6 770.5,1302.6 771.5,1298.4 772.6,1294.1 773.6,1289.4 774.6,1284.6 775.6,1279.5 776.7,1274.2 777.7,1268.7 778.7,1263.0 779.7,1257.0 780.8,1250.9 781.8,1244.6 782.8,1238.2 783.8,1231.6 784.9,1224.9 785.9,1218.1 786.9,1211.3 787.9,1204.5 789.0,1197.7 790.0,1190.9 791.0,1184.3 792.0,1177.8 793.1,1171.5 794.1,1165.5 795.1,1159.7 796.1,1154.3 797.2,1149.2 798.2,1144.6 799.2,1140.4 800.2,1136.8 801.3,1133.6 802.3,1131.1 803.3,1129.1 804.3,1127.7 805.4,1126.9 806.4,1126.7 807.4,1127.2 808.5,1128.3 809.5,1130.0 810.5,1132.3 811.5,1135.1 812.6,1138.5 813.6,1142.4 814.6,1146.8 815.6,1151.7 816.7,1156.9 817.7,1162.5 818.7,1168.4 819.7,1174.6 820.8,1181.0 821.8,1187.6 822.8,1194.3 823.8,1201.1 824.9,1207.9 825.9,1214.7 826.9,1221.5 827.9,1228.3 829.0,1234.9 830.0,1241.5 831.0,1247.8 832.0,1254.0 833.1,1260.1 834.1,1265.9 835.1,1271.5 836.1,1277.0 837.2,1282.1 838.2,1287.1 839.2,1291.8 840.2,1296.3 841.3,1300.6 842.3,1304.7 843.3,1308.6 844.3,1312.2 845.4,1315.6 846.4,1318.9 847.4,1322.0 848.4,1324.8 849.5,1327.6 850.5,1330.1 851.5,1332.5 852.5,1334.8 853.6,1336.9 854.6,1338.9 855.6,1340.8 856.6,1342.5 857.7,1344.2 858.7,1345.8 859.7,1347.2 860.7,1348.6 861.8,1349.9 862.8,1351.1 863.8,1352.2 864.8,1353.3 865.9,1354.3 866.9,1355.3 867.9,1356.2 868.9,1357.0 870.0,1357.8 871.0,1358.5 872.0,1359.2 873.0,1359.9 874.1,1360.5 875.1,1361.0 876.1,1361.6 877.1,1362.0 878.2,1362.5 879.2,1362.9 880.2,1363.3 881.2,1363.7 882.3,1364.0 883.3,1364.3 884.3,1364.6 885.3,1364.8 886.4,1365.0 887.4,1365.2 888.4,1365.4 889.4,1365.5 890.5,1365.6 891.5,1365.7 892.5,1365.8 893.5,1365.8 894.6,1365.8 895.6,1365.8 896.6,1365.8 897.6,1365.7 898.7,1365.7 899.7,1365.6 900.7,1365.5 901.7,1365.3 902.8,1365.2 903.8,1365.0 904.8,1364.8 905.8,1364.6 906.9,1364.4 907.9,1364.2 908.9,1363.9 909.9,1363.6 911.0,1363.3 912.0,1363.1 913.0,1362.7 914.0,1362.4 915.1,1362.1 916.1,1361.7 917.1,1361.4 918.1,1361.0 919.2,1360.7 920.2,1360.3 921.2,1359.9 922.2,1359.5 923.3,1359.1 924.3,1358.8 925.3,1358.4 926.3,1358.0 927.4,1357.6 928.4,1357.2 929.4,1356.9 930.4,1356.5 931.5,1356.1 932.5,1355.8 933.5,1355.4 934.5,1355.1 935.6,1354.8 936.6,1354.5 937.6,1354.2 938.6,1354.0 939.7,1353.7 940.7,1353.5 941.7,1353.3 942.7,1353.1 943.8,1352.9 944.8,1352.7 945.8,1352.6 946.8,1352.5 947.9,1352.4 948.9,1352.4 949.9,1352.4 950.9,1352.4 952.0,1352.4 953.0,1352.4 954.0,1352.5 955.0,1352.6 956.1,1352.7 957.1,1352.9 958.1,1353.1 959.1,1353.3 960.2,1353.5 961.2,1353.8 962.2,1354.0 963.2,1354.3 964.3,1354.7 965.3,1355.0 966.3,1355.4 967.4,1355.7 968.4,1356.1 969.4,1356.6 970.4,1357.0 971.5,1357.5 972.5,1357.9 973.5,1358.4 974.5,1358.9 975.6,1359.4 976.6,1359.9 977.6,1360.4 978.6,1361.0 979.7,1361.5 980.7,1362.1 981.7,1362.6 982.7,1363.2 983.8,1363.7 984.8,1364.3 985.8,1364.8 986.8,1365.4 987.9,1365.9 988.9,1366.5 989.9,1367.0 990.9,1367.6 992.0,1368.1 993.0,1368.6 994.0,1369.1 995.0,1369.6 996.1,1370.1 997.1,1370.6 998.1,1371.1 999.1,1371.6 1000.2,1372.1 1001.2,1372.5 1002.2,1373.0 1003.2,1373.4 1004.3,1373.8 1005.3,1374.2 1006.3,1374.6 1007.3,1375.0 1008.4,1375.4 1009.4,1375.7 1010.4,1376.1 1011.4,1376.4 1012.5,1376.7 1013.5,1377.0 1014.5,1377.3 1015.5,1377.6 1016.6,1377.9 1017.6,1378.1 1018.6,1378.4 1019.6,1378.6 1020.7,1378.9 1021.7,1379.1 1022.7,1379.3 1023.7,1379.5 1024.8,1379.7" stroke="#f00" stroke-width="4.8" stroke-linejoin="round" stroke-linecap="butt" fill="none"/>
</g>
<g font-family="'Liberation Sans', Arial, Helvetica, sans-serif" font-size="47.3" fill="#000">
<text transform="translate(84.6 733.4) scale(1 1.037)" text-anchor="end">0</text>
<text transform="translate(84.6 611.0) scale(1 1.037)" text-anchor="end">1</text>
<text transform="translate(84.6 488.7) scale(1 1.037)" text-anchor="end">2</text>
<text transform="translate(84.6 366.4) scale(1 1.037)" text-anchor="end">3</text>
<text transform="translate(84.6 244.0) scale(1 1.037)" text-anchor="end">4</text>
<text transform="translate(84.6 121.6) scale(1 1.037)" text-anchor="end">5</text>
<text transform="translate(84.6 1390.4) scale(1 1.037)" text-anchor="end">0</text>
<text transform="translate(84.6 1258.0) scale(1 1.037)" text-anchor="end">1</text>
<text transform="translate(84.6 1125.7) scale(1 1.037)" text-anchor="end">2</text>
<text transform="translate(84.6 993.4) scale(1 1.037)" text-anchor="end">3</text>
<text transform="translate(84.6 861.0) scale(1 1.037)" text-anchor="end">4</text>
<text transform="translate(180.4 1442.0) scale(1 1.037)" text-anchor="middle">-100</text>
<text transform="translate(371.9 1442.0) scale(1 1.037)" text-anchor="middle">-50</text>
<text transform="translate(564.0 1442.0) scale(1 1.037)" text-anchor="middle">0</text>
<text transform="translate(755.5 1442.0) scale(1 1.037)" text-anchor="middle">50</text>
<text transform="translate(947.0 1442.0) scale(1 1.037)" text-anchor="middle">100</text>
<text x="161.4" y="243" font-size="47">perpendicular</text>
<text x="161.2" y="919.6" font-size="47">parallel</text>
<text transform="translate(750.2 891.8) scale(1 1.037)" font-size="46.7">r = 0.31</text>
<text transform="translate(170.5 648.7) scale(1 1.037)">(3,1)</text>
<text transform="translate(281.5 636.0) scale(1 1.037)">(2,0)</text>
<text transform="translate(341.5 570.4) scale(1 1.037)">(2,1)</text>
<text transform="translate(424.9 379.8) scale(1 1.037)">(3,2)</text>
<text transform="translate(814.0 127.1) scale(1 1.037)">(3,3)</text>
<text transform="translate(905.3 618.8) scale(1 1.037)">(2,3)</text>
<text transform="translate(34.2 1070.7) rotate(-90)" x="0" y="0" font-size="46.9">Fluorescence Intensity (arb. units)</text>
<text transform="translate(499.9 21.7) scale(1 1.037)" font-size="30">87</text>
<text x="533.9" y="46.8" font-size="50">Rb</text>
<text x="466.8" y="1521.6" font-size="48.5" font-family="'Liberation Serif', 'Times New Roman', serif">Δ</text>
<text x="495.5" y="1521.6" font-size="52" font-family="'Liberation Serif', 'Times New Roman', serif">ν</text>
<text x="534.6" y="1521.6">(MHz)</text>
</g>
</svg>
</body></html>
